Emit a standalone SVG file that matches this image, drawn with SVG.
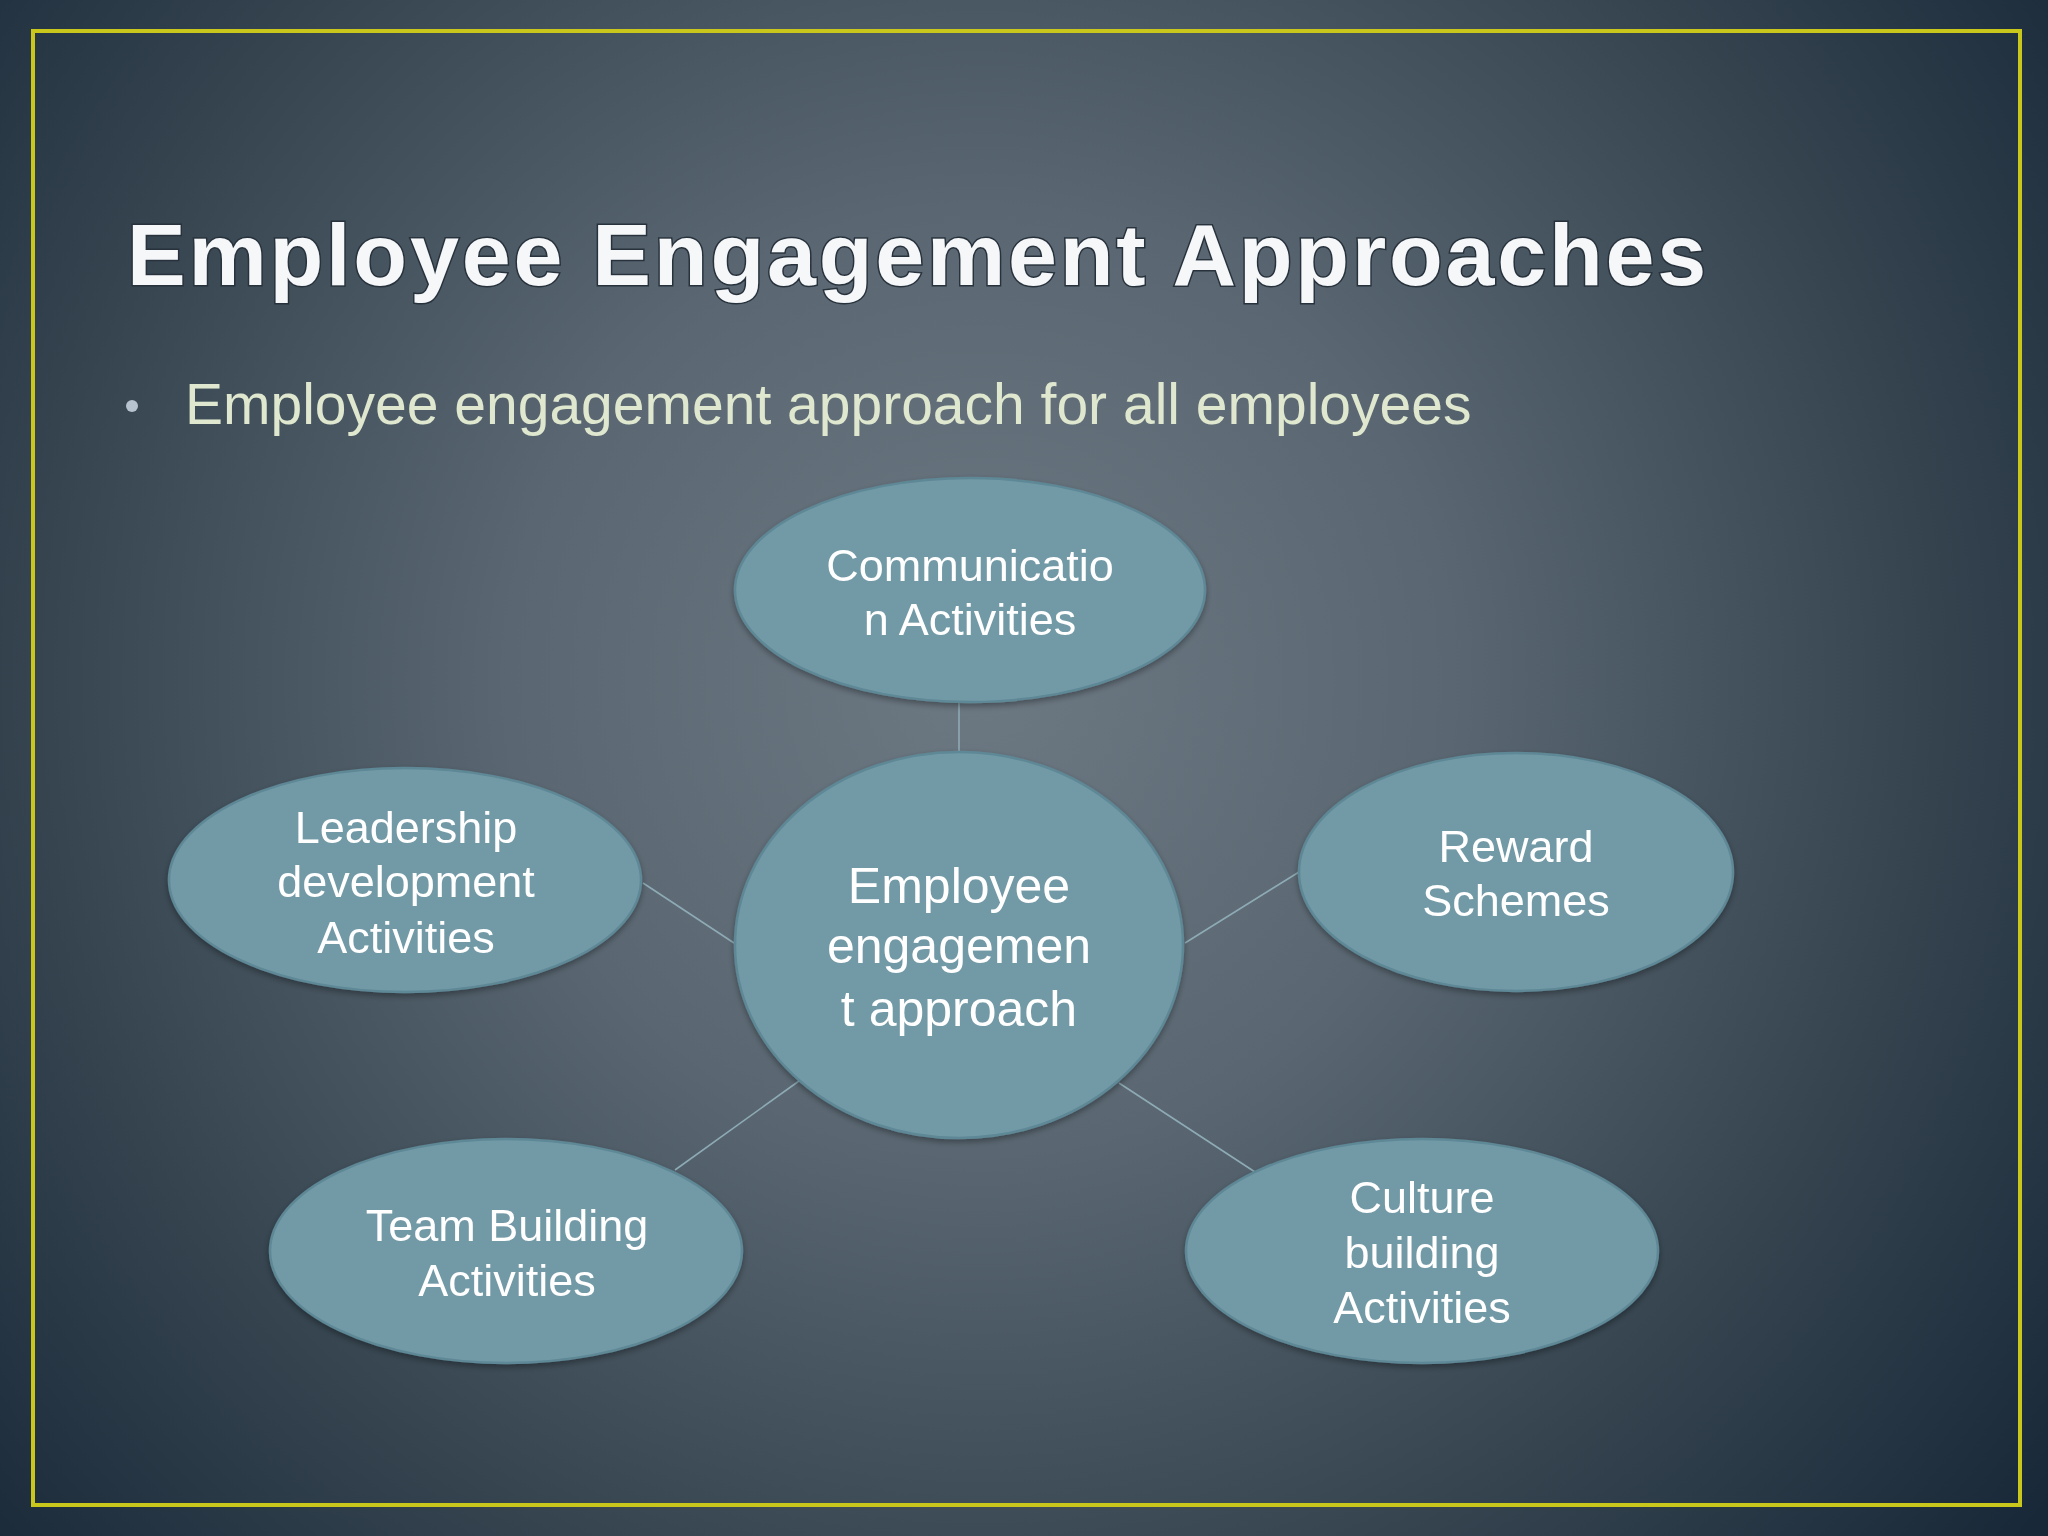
<svg xmlns="http://www.w3.org/2000/svg" width="2048" height="1536" viewBox="0 0 2048 1536">
  <defs>
    <radialGradient id="bg" gradientUnits="userSpaceOnUse" cx="980" cy="680" r="1350">
      <stop offset="0" stop-color="#6c7882"/>
      <stop offset="0.35" stop-color="#5a6772"/>
      <stop offset="0.7" stop-color="#35444f"/>
      <stop offset="1" stop-color="#182838"/>
    </radialGradient>
    <filter id="shadow" x="-10%" y="-10%" width="120%" height="130%">
      <feGaussianBlur in="SourceAlpha" stdDeviation="3"/>
      <feOffset dx="0" dy="3" result="b"/>
      <feComponentTransfer><feFuncA type="linear" slope="0.35"/></feComponentTransfer>
      <feMerge><feMergeNode/><feMergeNode in="SourceGraphic"/></feMerge>
    </filter>
  </defs>
  <style>
    .node ellipse { fill: #7299a6; stroke: #5e8896; stroke-width: 2.5; }
    .node text { font-family: "Liberation Sans", Arial, sans-serif; fill: #ffffff; text-anchor: middle; }
    .small { font-size: 45px; }
    .big { font-size: 50px; }
    .conn line { stroke: #8eabb5; stroke-width: 1.6; }
  </style>
  <rect x="0" y="0" width="2048" height="1536" fill="url(#bg)"/>
  <rect x="33" y="31" width="1987" height="1474" fill="none" stroke="#c9c61c" stroke-width="4"/>

  <text x="127" y="285" font-family="Liberation Sans, Arial, sans-serif" font-weight="bold" font-size="88" letter-spacing="2.8" fill="#f5f7f9" stroke="#27323c" stroke-width="3" paint-order="stroke">Employee Engagement Approaches</text>

  <circle cx="132" cy="406" r="6" fill="#b7c3cf"/>
  <text x="185" y="424" font-family="Liberation Sans, Arial, sans-serif" font-size="57" fill="#dfe8cf">Employee engagement approach for all employees</text>

  <g id="connectors" class="conn">
    <line x1="959" y1="702" x2="959" y2="752"/>
    <line x1="643" y1="883" x2="734" y2="943"/>
    <line x1="1185" y1="943" x2="1299" y2="872"/>
    <line x1="799" y1="1081" x2="675" y2="1170"/>
    <line x1="1119" y1="1083" x2="1255" y2="1172"/>
  </g>

  <g id="node-top" class="node" filter="url(#shadow)">
    <ellipse cx="970" cy="590" rx="235" ry="112"/>
    <text class="small" x="970" y="581">Communicatio</text>
    <text class="small" x="970" y="635">n Activities</text>
  </g>
  <g id="node-center" class="node" filter="url(#shadow)">
    <ellipse cx="959" cy="945" rx="224" ry="193"/>
    <text class="big" x="959" y="903">Employee</text>
    <text class="big" x="959" y="963">engagemen</text>
    <text class="big" x="959" y="1026">t approach</text>
  </g>
  <g id="node-left" class="node" filter="url(#shadow)">
    <ellipse cx="405" cy="880" rx="236" ry="112"/>
    <text class="small" x="406" y="843">Leadership</text>
    <text class="small" x="406" y="897">development</text>
    <text class="small" x="406" y="953">Activities</text>
  </g>
  <g id="node-right" class="node" filter="url(#shadow)">
    <ellipse cx="1516" cy="872" rx="217" ry="119"/>
    <text class="small" x="1516" y="862">Reward</text>
    <text class="small" x="1516" y="916">Schemes</text>
  </g>
  <g id="node-bottom-left" class="node" filter="url(#shadow)">
    <ellipse cx="506" cy="1251" rx="236" ry="112"/>
    <text class="small" x="507" y="1241">Team Building</text>
    <text class="small" x="507" y="1296">Activities</text>
  </g>
  <g id="node-bottom-right" class="node" filter="url(#shadow)">
    <ellipse cx="1422" cy="1251" rx="236" ry="112"/>
    <text class="small" x="1422" y="1213">Culture</text>
    <text class="small" x="1422" y="1268">building</text>
    <text class="small" x="1422" y="1323">Activities</text>
  </g>
</svg>
